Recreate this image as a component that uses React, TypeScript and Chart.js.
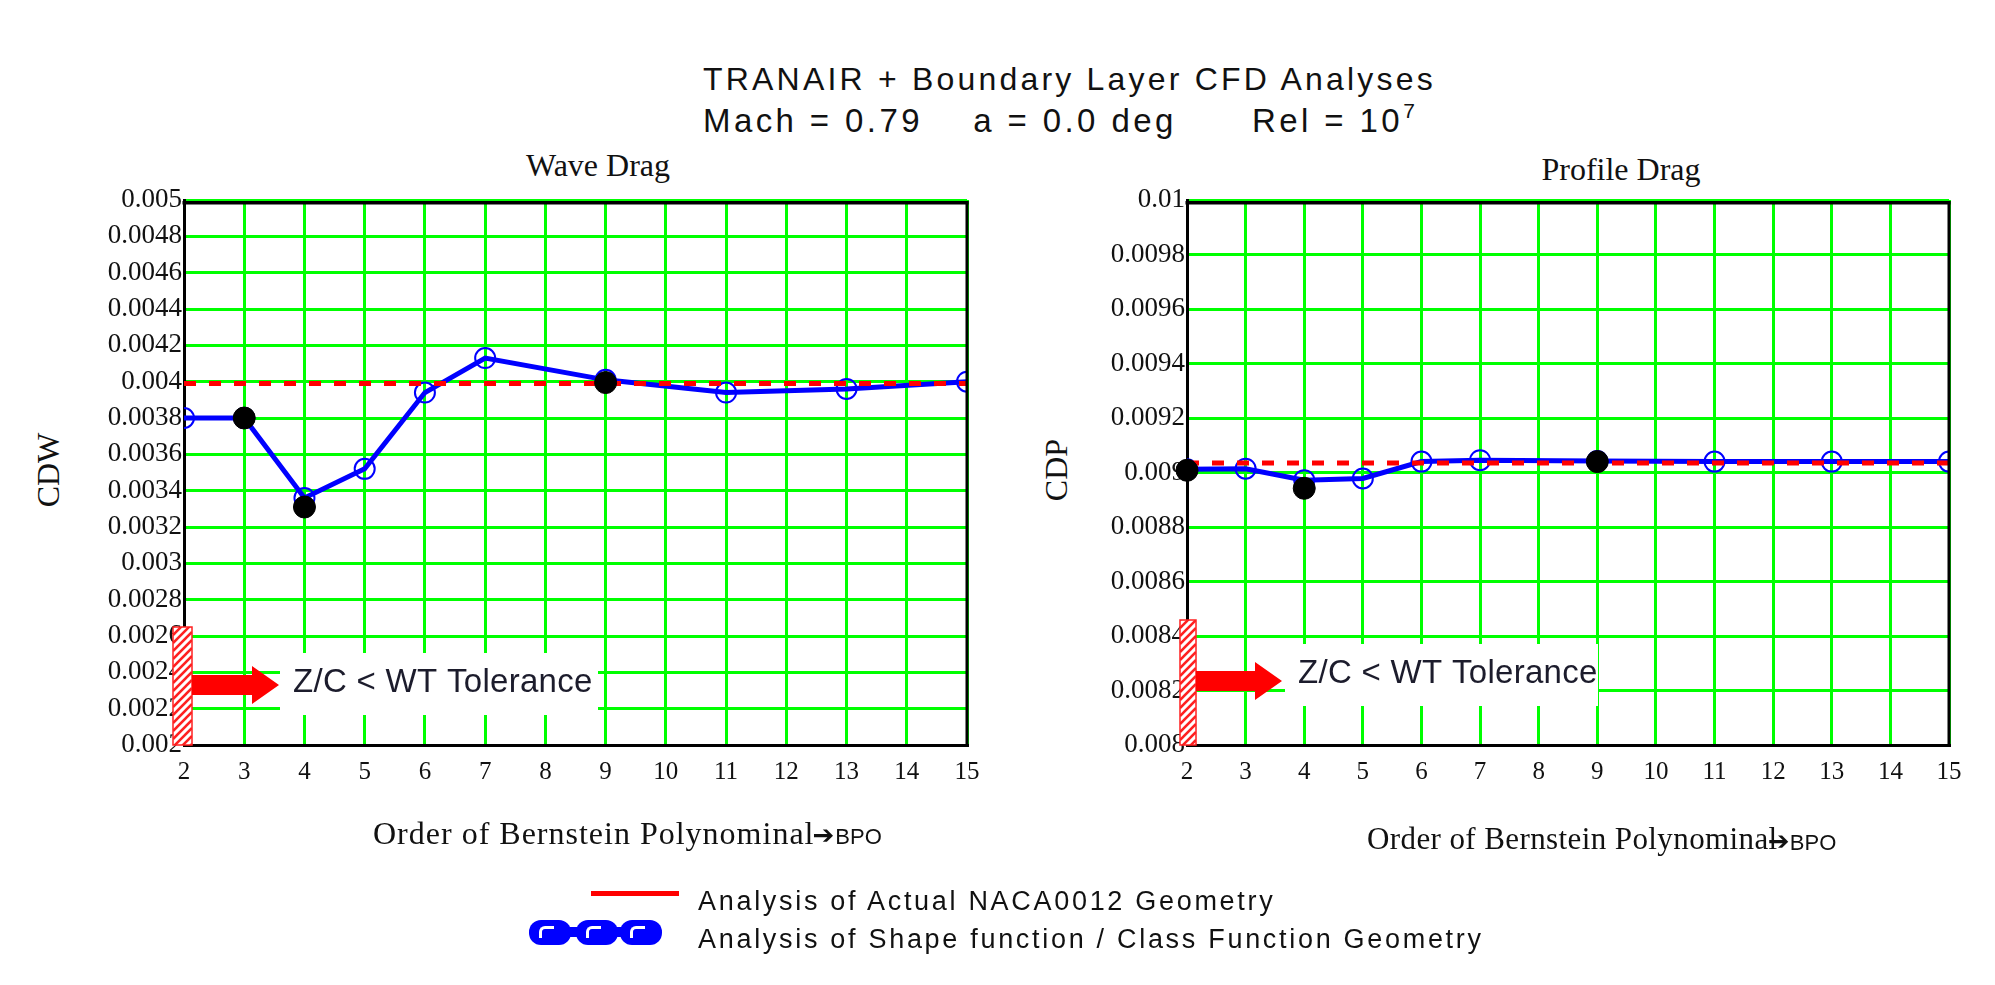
import React, { useEffect, useRef } from 'react';
import Chart from 'chart.js/auto';

// Bernstein polynomial orders that were analysed
const bpoOrders = [2, 3, 4, 5, 6, 7, 9, 11, 13, 15];
const actualOrders = [2, 15];

// Wave drag (CDW)
const waveDragShape = [0.0038, 0.0038, 0.00336, 0.00352, 0.00394, 0.00413, 0.00401, 0.00394, 0.00396, 0.004];
const waveDragActual = [0.00399, 0.00399];
const waveFlagOrders = [3, 4, 9];
const waveFlagValues = [0.0038, 0.00331, 0.003995];

// Profile drag (CDP)
const profileDragShape = [0.009012, 0.009014, 0.008972, 0.008978, 0.00904, 0.009045, 0.009042, 0.00904, 0.00904, 0.00904];
const profileDragActual = [0.009035, 0.009035];
const profileFlagOrders = [2, 4, 9];
const profileFlagValues = [0.009008, 0.008942, 0.00904];

const xTickLabels = ['2', '3', '4', '5', '6', '7', '8', '9', '10', '11', '12', '13', '14', '15'];
const waveTickLabels = [
    '0.002', '0.0022', '0.0024', '0.0026', '0.0028', '0.003', '0.0032', '0.0034',
    '0.0036', '0.0038', '0.004', '0.0042', '0.0044', '0.0046', '0.0048', '0.005',
];
const profileTickLabels = [
    '0.008', '0.0082', '0.0084', '0.0086', '0.0088', '0.009', '0.0092', '0.0094', '0.0096', '0.0098', '0.01',
];

const SERIF = '"Liberation Serif", "Times New Roman", serif';
const SANS = '"Liberation Sans", Arial, sans-serif';
const GRID = '#00ff00';

interface NoteOptions {
    hatchX: number;
    hatchW: number;
    hatchH: number;
    arrowY: number;
    boxLeft: number;
    boxRight: number;
    boxTop: number;
    boxBottom: number;
    textY: number;
}

// frame, hatched limit box, red arrow and the "Z/C < WT Tolerance" note
const notePlugin = {
    id: 'zcNote',
    beforeDatasetsDraw(chart: Chart, _args: unknown, o: NoteOptions) {
        const { ctx, chartArea: a } = chart;
        ctx.save();
        ctx.fillStyle = '#ffffff';
        ctx.fillRect(a.left + o.boxLeft, a.bottom - o.boxTop, o.boxRight - o.boxLeft, o.boxTop - o.boxBottom);
        ctx.restore();
    },
    afterDraw(chart: Chart, _args: unknown, o: NoteOptions) {
        const { ctx, chartArea: a } = chart;
        ctx.save();

        // top and right frame
        ctx.fillStyle = '#000000';
        ctx.fillRect(a.left - 1.5, a.top + 1, a.width + 3, 3.5);
        ctx.fillRect(a.right - 1.5, a.top + 1, 3, a.height);

        // hatched box on the axis
        const hx = a.left + o.hatchX;
        const hy = a.bottom - o.hatchH;
        ctx.fillStyle = '#ffffff';
        ctx.fillRect(hx, hy, o.hatchW, o.hatchH);
        ctx.save();
        ctx.beginPath();
        ctx.rect(hx, hy, o.hatchW, o.hatchH);
        ctx.clip();
        ctx.strokeStyle = '#ff2020';
        ctx.lineWidth = 2.5;
        for (let y = hy - o.hatchW; y < a.bottom + o.hatchW; y += 8) {
            ctx.beginPath();
            ctx.moveTo(hx, y + o.hatchW);
            ctx.lineTo(hx + o.hatchW, y);
            ctx.stroke();
        }
        ctx.restore();
        ctx.strokeStyle = '#ff2020';
        ctx.lineWidth = 1.5;
        ctx.strokeRect(hx, hy, o.hatchW, o.hatchH);

        // red arrow
        const sx = hx + o.hatchW;
        const cy = a.bottom - o.arrowY;
        ctx.fillStyle = '#ff0000';
        ctx.beginPath();
        ctx.moveTo(sx, cy - 10);
        ctx.lineTo(a.left + 68, cy - 10);
        ctx.lineTo(a.left + 68, cy - 19);
        ctx.lineTo(a.left + 95, cy);
        ctx.lineTo(a.left + 68, cy + 19);
        ctx.lineTo(a.left + 68, cy + 10);
        ctx.lineTo(sx, cy + 10);
        ctx.closePath();
        ctx.fill();

        // note text
        ctx.fillStyle = '#1c1c2c';
        ctx.font = `33px ${SANS}`;
        ctx.textBaseline = 'middle';
        ctx.textAlign = 'left';
        (ctx as any).letterSpacing = '0.3px';
        ctx.fillText('Z/C < WT Tolerance', a.left + o.boxLeft + 13, a.bottom - o.textY);
        ctx.restore();
    },
};

interface PanelProps {
    shape: number[];
    actual: number[];
    flagOrders: number[];
    flagValues: number[];
    tickLabels: string[];
    yMin: number;
    yMax: number;
    axisWidth: number;
    padRight: number;
    note: NoteOptions;
}

const DragPanel: React.FC<PanelProps> = ({ shape, actual, flagOrders, flagValues, tickLabels, yMin, yMax, axisWidth, padRight, note }) => {
    const chartRef = useRef<HTMLCanvasElement | null>(null);
    const chartInstance = useRef<Chart | null>(null);

    useEffect(() => {
        if (!chartRef.current) return;
        const ctx = chartRef.current.getContext('2d');
        if (!ctx) return;

        if (chartInstance.current) {
            chartInstance.current.destroy();
        }

        chartInstance.current = new Chart(ctx, {
            type: 'line',
            data: {
                datasets: [
                    {
                        label: 'flagged',
                        data: flagOrders.map((x, i) => ({ x, y: flagValues[i] })),
                        showLine: false,
                        pointRadius: 11,
                        pointBackgroundColor: '#000000',
                        pointBorderColor: '#000000',
                        pointBorderWidth: 1,
                        clip: false,
                    },
                    {
                        label: 'Analysis of Actual NACA0012 Geometry',
                        data: actualOrders.map((x, i) => ({ x, y: actual[i] })),
                        borderColor: '#ff0000',
                        borderWidth: 5,
                        borderDash: [12, 13],
                        pointRadius: 0,
                    },
                    {
                        label: 'Analysis of Shape function / Class Function Geometry',
                        data: bpoOrders.map((x, i) => ({ x, y: shape[i] })),
                        borderColor: '#0000ff',
                        borderWidth: 5,
                        pointRadius: 10,
                        pointBorderWidth: 2,
                        pointBorderColor: '#0000ff',
                        pointBackgroundColor: 'rgba(0,0,0,0)',
                        tension: 0,
                    },
                ],
            },
            options: {
                animation: false,
                responsive: true,
                maintainAspectRatio: false,
                layout: { padding: { top: 200, right: padRight, left: 0, bottom: 180 } },
                plugins: {
                    legend: { display: false },
                    tooltip: { enabled: false },
                    zcNote: note,
                } as any,
                scales: {
                    x: {
                        type: 'linear',
                        min: 2,
                        max: 15,
                        afterBuildTicks: (s: any) => {
                            s.ticks = xTickLabels.map((l) => ({ value: Number(l) }));
                        },
                        afterFit: (s: any) => {
                            s.height = 60;
                        },
                        ticks: {
                            callback: (_v: any, i: number) => xTickLabels[i],
                            autoSkip: false,
                            maxRotation: 0,
                            padding: 12,
                            color: '#111111',
                            font: { family: SERIF, size: 25 },
                        },
                        grid: { color: GRID, lineWidth: 3, drawTicks: false },
                        border: { color: '#000000', width: 3 },
                    },
                    y: {
                        type: 'linear',
                        min: yMin,
                        max: yMax,
                        afterBuildTicks: (s: any) => {
                            s.ticks = tickLabels.map((l) => ({ value: Number(l) }));
                        },
                        afterFit: (s: any) => {
                            s.width = axisWidth;
                        },
                        ticks: {
                            callback: (_v: any, i: number) => tickLabels[i],
                            autoSkip: false,
                            padding: 2,
                            color: '#111111',
                            font: { family: SERIF, size: 27 },
                        },
                        grid: { color: GRID, lineWidth: 3, drawTicks: false },
                        border: { color: '#000000', width: 3 },
                    },
                },
            },
            plugins: [notePlugin as any],
        });

        return () => {
            if (chartInstance.current) {
                chartInstance.current.destroy();
                chartInstance.current = null;
            }
        };
    }, [shape, actual, flagOrders, flagValues, tickLabels, yMin, yMax, axisWidth, padRight, note]);

    return <canvas ref={chartRef}></canvas>;
};

const waveNote: NoteOptions = {
    hatchX: -11, hatchW: 19, hatchH: 118, arrowY: 60,
    boxLeft: 96, boxRight: 414, boxTop: 92, boxBottom: 30, textY: 62,
};
const profileNote: NoteOptions = {
    hatchX: -7, hatchW: 16, hatchH: 125, arrowY: 64,
    boxLeft: 98, boxRight: 411, boxTop: 101, boxBottom: 39, textY: 71,
};

const abs = (x: number, y: number, extra: React.CSSProperties = {}): React.CSSProperties => ({
    position: 'absolute',
    left: x,
    top: y,
    whiteSpace: 'pre',
    lineHeight: 1,
    ...extra,
});

const Arrow: React.FC<{ size: number; shift: number }> = ({ size, shift }) => (
    <span style={{ fontFamily: '"DejaVu Sans", sans-serif', fontWeight: 'bold', fontSize: size, marginLeft: shift, position: 'relative', top: 2 }}>➔</span>
);

const App: React.FC = () => {
    return (
        <div style={{ position: 'absolute', left: 0, top: 0, width: 1995, height: 985, background: '#ffffff', overflow: 'hidden', color: '#111' }}>
            <div style={abs(703, 63, { fontFamily: SANS, fontSize: 32, letterSpacing: 3.2 })}>
                TRANAIR + Boundary Layer CFD Analyses
            </div>
            <div style={abs(703, 104, { fontFamily: SANS, fontSize: 33, letterSpacing: 3.4 })}>
                {'Mach = 0.79    a = 0.0 deg      Rel = 10'}
                <sup style={{ fontSize: 21, verticalAlign: 'top', position: 'relative', top: -4 }}>7</sup>
            </div>
            <div style={abs(598, 165, { fontFamily: SERIF, fontSize: 32, transform: 'translate(-50%,-50%)' })}>Wave Drag</div>
            <div style={abs(1621, 169, { fontFamily: SERIF, fontSize: 32, transform: 'translate(-50%,-50%)' })}>Profile Drag</div>

            <div style={abs(48, 470, { fontFamily: SERIF, fontSize: 32, transform: 'translate(-50%,-50%) rotate(-90deg)' })}>CDW</div>
            <div style={abs(1056, 470, { fontFamily: SERIF, fontSize: 32, transform: 'translate(-50%,-50%) rotate(-90deg)' })}>CDP</div>

            <div style={{ position: 'absolute', left: 0, top: 0, width: 1000, height: 985 }}>
                <DragPanel
                    shape={waveDragShape}
                    actual={waveDragActual}
                    flagOrders={waveFlagOrders}
                    flagValues={waveFlagValues}
                    tickLabels={waveTickLabels}
                    yMin={0.002}
                    yMax={0.005}
                    axisWidth={184}
                    padRight={33}
                    note={waveNote}
                />
            </div>
            <div style={{ position: 'absolute', left: 1000, top: 0, width: 995, height: 985 }}>
                <DragPanel
                    shape={profileDragShape}
                    actual={profileDragActual}
                    flagOrders={profileFlagOrders}
                    flagValues={profileFlagValues}
                    tickLabels={profileTickLabels}
                    yMin={0.008}
                    yMax={0.01}
                    axisWidth={187}
                    padRight={46}
                    note={profileNote}
                />
            </div>

            <div style={abs(373, 833, { fontFamily: SERIF, fontSize: 32, letterSpacing: 1.0, transform: 'translateY(-50%)', display: 'flex', alignItems: 'center' })}>
                Order of Bernstein Polynominal
                <Arrow size={26} shift={-2} />
                <span style={{ fontFamily: SANS, fontSize: 22, letterSpacing: 0, position: 'relative', top: 4 }}>BPO</span>
            </div>
            <div style={abs(1367, 838, { fontFamily: SERIF, fontSize: 31, letterSpacing: 0.4, transform: 'translateY(-50%)', display: 'flex', alignItems: 'center' })}>
                Order of Bernstein Polynominal
                <Arrow size={26} shift={-10} />
                <span style={{ fontFamily: SANS, fontSize: 22, letterSpacing: 0, position: 'relative', top: 4 }}>BPO</span>
            </div>

            {/* legend */}
            <div style={abs(591, 891, { width: 88, height: 5, background: '#ff0000' })} />
            <div style={abs(540, 927, { width: 118, height: 10, background: '#0000ff' })} />
            {[550, 597, 641].map((cx) => (
                <div key={cx} style={abs(cx - 21, 920, { width: 42, height: 25, borderRadius: 12, background: '#0000ff' })}>
                    <div style={{ position: 'absolute', left: 10, top: 6, width: 12, height: 9, borderTop: '3px solid #fff', borderLeft: '3px solid #fff', borderTopLeftRadius: 6 }} />
                </div>
            ))}
            <div style={abs(698, 901, { fontFamily: SANS, fontSize: 27, letterSpacing: 2.7, transform: 'translateY(-50%)' })}>
                Analysis of Actual NACA0012 Geometry
            </div>
            <div style={abs(698, 939, { fontFamily: SANS, fontSize: 27, letterSpacing: 2.7, transform: 'translateY(-50%)' })}>
                Analysis of Shape function / Class Function Geometry
            </div>
        </div>
    );
};

export default App;
